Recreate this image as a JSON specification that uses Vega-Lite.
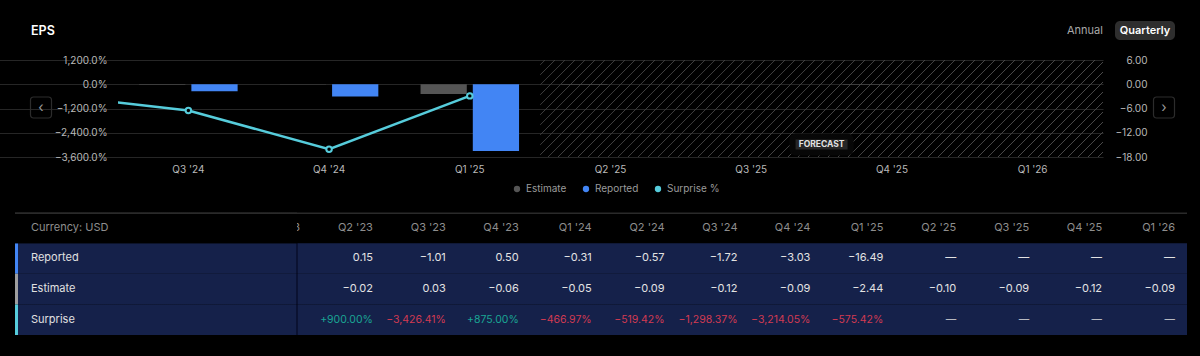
{
"$schema": "https://vega.github.io/schema/vega-lite/v6.json",
"width": 985, "height": 97,
"autosize": {"type": "none"},
"padding": {"left": 118, "top": 60, "right": 97, "bottom": 199},
"background": "#000000",
"config": {"font": "Inter", "view": {"stroke": null}, "axis": {"labelFont": "Inter"}, "legend": {"labelFont": "Inter"}},
"title": {"text": "EPS", "anchor": "start", "frame": "group", "dx": -87, "offset": -16, "fontSize": 12.5, "fontWeight": 600, "color": "#ffffff", "font": "Inter"},
"datasets": {"eps": [
 {"q": "Q1 '23", "Reported": null, "Estimate": null, "Surprise": null},
 {"q": "Q2 '23", "Reported": 0.15, "Estimate": -0.02, "Surprise": 9.0},
 {"q": "Q3 '23", "Reported": -1.01, "Estimate": 0.03, "Surprise": -34.2641},
 {"q": "Q4 '23", "Reported": 0.50, "Estimate": -0.06, "Surprise": 8.75},
 {"q": "Q1 '24", "Reported": -0.31, "Estimate": -0.05, "Surprise": -4.6697},
 {"q": "Q2 '24", "Reported": -0.57, "Estimate": -0.09, "Surprise": -5.1942},
 {"q": "Q3 '24", "Reported": -1.72, "Estimate": -0.12, "Surprise": -12.9837},
 {"q": "Q4 '24", "Reported": -3.03, "Estimate": -0.09, "Surprise": -32.1405},
 {"q": "Q1 '25", "Reported": -16.49, "Estimate": -2.44, "Surprise": -5.7542},
 {"q": "Q2 '25", "Reported": null, "Estimate": -0.10, "Surprise": null},
 {"q": "Q3 '25", "Reported": null, "Estimate": -0.09, "Surprise": null},
 {"q": "Q4 '25", "Reported": null, "Estimate": -0.12, "Surprise": null},
 {"q": "Q1 '26", "Reported": null, "Estimate": -0.09, "Surprise": null}
]},
"layer": [
 {
  "data": {"values": [{"label": "FORECAST"}]},
  "layer": [
   {"mark": {"type": "rect", "fill": {"gradient": "linear", "x1": 0, "y1": 0, "x2": 1.1385, "y2": 0.1962, "stops": [
     {"offset":0,"color":"transparent"},
     {"offset":0.0060,"color":"transparent"},{"offset":0.0076,"color":"#4a4a4a"},{"offset":0.0092,"color":"transparent"},
     {"offset":0.0211,"color":"transparent"},{"offset":0.0227,"color":"#4a4a4a"},{"offset":0.0243,"color":"transparent"},
     {"offset":0.0363,"color":"transparent"},{"offset":0.0379,"color":"#4a4a4a"},{"offset":0.0395,"color":"transparent"},
     {"offset":0.0514,"color":"transparent"},{"offset":0.0530,"color":"#4a4a4a"},{"offset":0.0546,"color":"transparent"},
     {"offset":0.0666,"color":"transparent"},{"offset":0.0682,"color":"#4a4a4a"},{"offset":0.0698,"color":"transparent"},
     {"offset":0.0817,"color":"transparent"},{"offset":0.0833,"color":"#4a4a4a"},{"offset":0.0849,"color":"transparent"},
     {"offset":0.0969,"color":"transparent"},{"offset":0.0985,"color":"#4a4a4a"},{"offset":0.1001,"color":"transparent"},
     {"offset":0.1120,"color":"transparent"},{"offset":0.1136,"color":"#4a4a4a"},{"offset":0.1152,"color":"transparent"},
     {"offset":0.1272,"color":"transparent"},{"offset":0.1288,"color":"#4a4a4a"},{"offset":0.1304,"color":"transparent"},
     {"offset":0.1423,"color":"transparent"},{"offset":0.1439,"color":"#4a4a4a"},{"offset":0.1455,"color":"transparent"},
     {"offset":0.1575,"color":"transparent"},{"offset":0.1591,"color":"#4a4a4a"},{"offset":0.1607,"color":"transparent"},
     {"offset":0.1726,"color":"transparent"},{"offset":0.1742,"color":"#4a4a4a"},{"offset":0.1758,"color":"transparent"},
     {"offset":0.1878,"color":"transparent"},{"offset":0.1894,"color":"#4a4a4a"},{"offset":0.1910,"color":"transparent"},
     {"offset":0.2029,"color":"transparent"},{"offset":0.2045,"color":"#4a4a4a"},{"offset":0.2061,"color":"transparent"},
     {"offset":0.2181,"color":"transparent"},{"offset":0.2197,"color":"#4a4a4a"},{"offset":0.2213,"color":"transparent"},
     {"offset":0.2332,"color":"transparent"},{"offset":0.2348,"color":"#4a4a4a"},{"offset":0.2364,"color":"transparent"},
     {"offset":0.2484,"color":"transparent"},{"offset":0.2500,"color":"#4a4a4a"},{"offset":0.2516,"color":"transparent"},
     {"offset":0.2636,"color":"transparent"},{"offset":0.2652,"color":"#4a4a4a"},{"offset":0.2668,"color":"transparent"},
     {"offset":0.2787,"color":"transparent"},{"offset":0.2803,"color":"#4a4a4a"},{"offset":0.2819,"color":"transparent"},
     {"offset":0.2939,"color":"transparent"},{"offset":0.2955,"color":"#4a4a4a"},{"offset":0.2971,"color":"transparent"},
     {"offset":0.3090,"color":"transparent"},{"offset":0.3106,"color":"#4a4a4a"},{"offset":0.3122,"color":"transparent"},
     {"offset":0.3242,"color":"transparent"},{"offset":0.3258,"color":"#4a4a4a"},{"offset":0.3274,"color":"transparent"},
     {"offset":0.3393,"color":"transparent"},{"offset":0.3409,"color":"#4a4a4a"},{"offset":0.3425,"color":"transparent"},
     {"offset":0.3545,"color":"transparent"},{"offset":0.3561,"color":"#4a4a4a"},{"offset":0.3577,"color":"transparent"},
     {"offset":0.3696,"color":"transparent"},{"offset":0.3712,"color":"#4a4a4a"},{"offset":0.3728,"color":"transparent"},
     {"offset":0.3848,"color":"transparent"},{"offset":0.3864,"color":"#4a4a4a"},{"offset":0.3880,"color":"transparent"},
     {"offset":0.3999,"color":"transparent"},{"offset":0.4015,"color":"#4a4a4a"},{"offset":0.4031,"color":"transparent"},
     {"offset":0.4151,"color":"transparent"},{"offset":0.4167,"color":"#4a4a4a"},{"offset":0.4183,"color":"transparent"},
     {"offset":0.4302,"color":"transparent"},{"offset":0.4318,"color":"#4a4a4a"},{"offset":0.4334,"color":"transparent"},
     {"offset":0.4454,"color":"transparent"},{"offset":0.4470,"color":"#4a4a4a"},{"offset":0.4486,"color":"transparent"},
     {"offset":0.4605,"color":"transparent"},{"offset":0.4621,"color":"#4a4a4a"},{"offset":0.4637,"color":"transparent"},
     {"offset":0.4757,"color":"transparent"},{"offset":0.4773,"color":"#4a4a4a"},{"offset":0.4789,"color":"transparent"},
     {"offset":0.4908,"color":"transparent"},{"offset":0.4924,"color":"#4a4a4a"},{"offset":0.4940,"color":"transparent"},
     {"offset":0.5060,"color":"transparent"},{"offset":0.5076,"color":"#4a4a4a"},{"offset":0.5092,"color":"transparent"},
     {"offset":0.5211,"color":"transparent"},{"offset":0.5227,"color":"#4a4a4a"},{"offset":0.5243,"color":"transparent"},
     {"offset":0.5363,"color":"transparent"},{"offset":0.5379,"color":"#4a4a4a"},{"offset":0.5395,"color":"transparent"},
     {"offset":0.5514,"color":"transparent"},{"offset":0.5530,"color":"#4a4a4a"},{"offset":0.5546,"color":"transparent"},
     {"offset":0.5666,"color":"transparent"},{"offset":0.5682,"color":"#4a4a4a"},{"offset":0.5698,"color":"transparent"},
     {"offset":0.5817,"color":"transparent"},{"offset":0.5833,"color":"#4a4a4a"},{"offset":0.5849,"color":"transparent"},
     {"offset":0.5969,"color":"transparent"},{"offset":0.5985,"color":"#4a4a4a"},{"offset":0.6001,"color":"transparent"},
     {"offset":0.6120,"color":"transparent"},{"offset":0.6136,"color":"#4a4a4a"},{"offset":0.6152,"color":"transparent"},
     {"offset":0.6272,"color":"transparent"},{"offset":0.6288,"color":"#4a4a4a"},{"offset":0.6304,"color":"transparent"},
     {"offset":0.6423,"color":"transparent"},{"offset":0.6439,"color":"#4a4a4a"},{"offset":0.6455,"color":"transparent"},
     {"offset":0.6575,"color":"transparent"},{"offset":0.6591,"color":"#4a4a4a"},{"offset":0.6607,"color":"transparent"},
     {"offset":0.6726,"color":"transparent"},{"offset":0.6742,"color":"#4a4a4a"},{"offset":0.6758,"color":"transparent"},
     {"offset":0.6878,"color":"transparent"},{"offset":0.6894,"color":"#4a4a4a"},{"offset":0.6910,"color":"transparent"},
     {"offset":0.7029,"color":"transparent"},{"offset":0.7045,"color":"#4a4a4a"},{"offset":0.7061,"color":"transparent"},
     {"offset":0.7181,"color":"transparent"},{"offset":0.7197,"color":"#4a4a4a"},{"offset":0.7213,"color":"transparent"},
     {"offset":0.7332,"color":"transparent"},{"offset":0.7348,"color":"#4a4a4a"},{"offset":0.7364,"color":"transparent"},
     {"offset":0.7484,"color":"transparent"},{"offset":0.7500,"color":"#4a4a4a"},{"offset":0.7516,"color":"transparent"},
     {"offset":0.7636,"color":"transparent"},{"offset":0.7652,"color":"#4a4a4a"},{"offset":0.7668,"color":"transparent"},
     {"offset":0.7787,"color":"transparent"},{"offset":0.7803,"color":"#4a4a4a"},{"offset":0.7819,"color":"transparent"},
     {"offset":0.7939,"color":"transparent"},{"offset":0.7955,"color":"#4a4a4a"},{"offset":0.7971,"color":"transparent"},
     {"offset":0.8090,"color":"transparent"},{"offset":0.8106,"color":"#4a4a4a"},{"offset":0.8122,"color":"transparent"},
     {"offset":0.8242,"color":"transparent"},{"offset":0.8258,"color":"#4a4a4a"},{"offset":0.8274,"color":"transparent"},
     {"offset":0.8393,"color":"transparent"},{"offset":0.8409,"color":"#4a4a4a"},{"offset":0.8425,"color":"transparent"},
     {"offset":0.8545,"color":"transparent"},{"offset":0.8561,"color":"#4a4a4a"},{"offset":0.8577,"color":"transparent"},
     {"offset":0.8696,"color":"transparent"},{"offset":0.8712,"color":"#4a4a4a"},{"offset":0.8728,"color":"transparent"},
     {"offset":0.8848,"color":"transparent"},{"offset":0.8864,"color":"#4a4a4a"},{"offset":0.8880,"color":"transparent"},
     {"offset":0.8999,"color":"transparent"},{"offset":0.9015,"color":"#4a4a4a"},{"offset":0.9031,"color":"transparent"},
     {"offset":0.9151,"color":"transparent"},{"offset":0.9167,"color":"#4a4a4a"},{"offset":0.9183,"color":"transparent"},
     {"offset":0.9302,"color":"transparent"},{"offset":0.9318,"color":"#4a4a4a"},{"offset":0.9334,"color":"transparent"},
     {"offset":0.9454,"color":"transparent"},{"offset":0.9470,"color":"#4a4a4a"},{"offset":0.9486,"color":"transparent"},
     {"offset":0.9605,"color":"transparent"},{"offset":0.9621,"color":"#4a4a4a"},{"offset":0.9637,"color":"transparent"},
     {"offset":0.9757,"color":"transparent"},{"offset":0.9773,"color":"#4a4a4a"},{"offset":0.9789,"color":"transparent"},
     {"offset":0.9908,"color":"transparent"},{"offset":0.9924,"color":"#4a4a4a"},{"offset":0.9940,"color":"transparent"},
     {"offset":1,"color":"transparent"}
    ]}},
    "encoding": {"x": {"datum": 3, "type": "quantitative", "scale": {"domain": [0, 7], "range": [0, 985], "nice": false, "zero": false}, "axis": null}, "x2": {"datum": 7}}},
   {"mark": {"type": "point", "shape": "M-0.9,-0.276L0.9,-0.276A0.1,0.1 0 0 1 1,-0.176L1,0.176A0.1,0.1 0 0 1 0.9,0.276L-0.9,0.276A0.1,0.1 0 0 1 -1,0.176L-1,-0.176A0.1,0.1 0 0 1 -0.9,-0.276Z", "size": 3364, "filled": true, "color": "#262626", "fill": "#262626", "stroke": "#070707", "strokeWidth": 6, "opacity": 1},
    "encoding": {"x": {"datum": 5, "type": "quantitative"}, "y": {"datum": -14.9, "type": "quantitative", "scale": {"domain": [-18, 6], "nice": false}, "axis": null}}},
   {"mark": {"type": "text", "fontSize": 8.5, "fontWeight": 700, "color": "#e2e2e2"},
    "encoding": {"x": {"datum": 5, "type": "quantitative"}, "y": {"datum": -14.9, "type": "quantitative"}, "text": {"field": "label"}}}
  ]
 },
 {
  "data": {"name": "eps"},
  "transform": [{"filter": {"field": "q", "oneOf": ["Q2 '24", "Q3 '24", "Q4 '24", "Q1 '25", "Q2 '25", "Q3 '25", "Q4 '25", "Q1 '26"]}}],
  "layer": [
   {
    "transform": [{"filter": {"field": "q", "oneOf": ["Q3 '24", "Q4 '24", "Q1 '25", "Q2 '25", "Q3 '25", "Q4 '25", "Q1 '26"]}}, {"fold": ["Estimate", "Reported"], "as": ["series", "value"]}],
    "mark": {"type": "bar"},
    "encoding": {
     "x": {"field": "q", "type": "nominal", "sort": null,
      "scale": {"domain": ["Q2 '24", "Q3 '24", "Q4 '24", "Q1 '25", "Q2 '25", "Q3 '25", "Q4 '25", "Q1 '26"], "range": [-140.7, 985], "paddingInner": 0.3, "paddingOuter": 0.15},
      "axis": {"orient": "bottom", "values": ["Q3 '24", "Q4 '24", "Q1 '25", "Q2 '25", "Q3 '25", "Q4 '25", "Q1 '26"], "title": null, "ticks": false, "domain": false, "grid": false, "labelPadding": 7, "labelColor": "#b9b9b9", "labelFontSize": 10, "labelAngle": 0}},
     "xOffset": {"field": "series", "type": "nominal", "scale": {"domain": ["Estimate", "Reported"], "paddingInner": 0.115, "paddingOuter": 0}},
     "y": {"field": "value", "type": "quantitative", "scale": {"domain": [-18, 6], "nice": false},
      "axis": {"orient": "right", "values": [-18, -12, -6, 0, 6], "tickCount": 5, "format": ".2f", "title": null, "ticks": false, "domain": false, "grid": false, "labelAlign": "right", "labelPadding": 44, "labelOverlap": false, "labelColor": "#b9b9b9", "labelFontSize": 10}},
     "color": {"field": "series", "type": "nominal",
      "scale": {"domain": ["Estimate", "Reported", "Surprise %"], "range": ["#555555", "#4285f4", "#56ccdb"]},
      "legend": {"orient": "none", "legendX": 394, "legendY": 124, "direction": "horizontal", "title": null, "symbolType": "circle", "symbolSize": 40, "labelColor": "#9b9b9b", "labelFontSize": 10, "columnPadding": 14, "labelOffset": 4, "symbolStrokeWidth": 0,
       "encode": {"symbols": {"update": {"fill": {"signal": "datum.value === 'Estimate' ? '#c4c4c4' : scale('color', datum.value)"}, "stroke": {"value": "transparent"}}}}}}
    }
   },
   {
    "layer": [
     {"transform": [{"filter": {"field": "q", "oneOf": ["Q2 '24", "Q3 '24", "Q4 '24", "Q1 '25"]}}],
      "mark": {"type": "line", "clip": true, "strokeWidth": 2.5},
      "encoding": {
       "x": {"field": "q", "type": "nominal", "sort": null},
       "y": {"field": "Surprise", "type": "quantitative", "scale": {"domain": [-36, 12], "nice": false},
        "axis": {"orient": "left", "values": [-36, -24, -12, 0, 12], "tickCount": 5, "format": ",.1%", "title": null, "ticks": false, "domain": false, "grid": true, "gridColor": "#262626", "gridWidth": 1, "labelPadding": 11, "labelOverlap": false, "labelBound": false, "labelColor": "#b9b9b9", "labelFontSize": 10}},
       "color": {"datum": "Surprise %", "type": "nominal"}}},
     {"transform": [{"filter": {"field": "q", "oneOf": ["Q3 '24", "Q4 '24", "Q1 '25"]}}],
      "mark": {"type": "point", "filled": true, "fill": "#000000", "stroke": "#56ccdb", "strokeWidth": 2, "size": 30, "opacity": 1},
      "encoding": {
       "x": {"field": "q", "type": "nominal", "sort": null},
       "y": {"field": "Surprise", "type": "quantitative"}}}
    ]
   }
  ],
  "resolve": {"scale": {"y": "independent"}}
 },
 {
  "layer": [
   {
    "data": {"values": [{}]},
    "layer": [
     {"mark": {"type": "rect", "fill": {"gradient": "linear", "x1": 0, "y1": 0, "x2": 0, "y2": 1, "stops": [{"offset": 0, "color": "#2a2a2a"}, {"offset": 0.035, "color": "#2a2a2a"}, {"offset": 0.035, "color": "#000000"}, {"offset": 1, "color": "#000000"}]}},
      "encoding": {"x": {"datum": 0, "type": "quantitative", "scale": {"domain": [0, 1], "range": [-103, 1069], "nice": false, "zero": false}, "axis": null}, "x2": {"datum": 1},
       "y": {"datum": "Currency: USD", "type": "nominal", "scale": {"domain": ["Currency: USD", "Reported", "Estimate", "Surprise"], "range": [152.5, 275], "paddingInner": 0, "paddingOuter": 0}, "axis": null}}},
     {"mark": {"type": "rect", "fill": {"gradient": "linear", "x1": 0, "y1": 0, "x2": 1, "y2": 0, "stops": [{"offset": 0, "color": "#4285f4"}, {"offset": 0.0026, "color": "#4285f4"}, {"offset": 0.0026, "color": "#15214a"}, {"offset": 0.2398, "color": "#15214a"}, {"offset": 0.2398, "color": "#0b1232"}, {"offset": 0.2415, "color": "#0b1232"}, {"offset": 0.2415, "color": "#15214a"}, {"offset": 1, "color": "#15214a"}]}},
      "encoding": {"x": {"datum": 0, "type": "quantitative"}, "x2": {"datum": 1}, "y": {"datum": "Reported", "type": "nominal"}}},
     {"mark": {"type": "rect", "fill": {"gradient": "linear", "x1": 0, "y1": 0, "x2": 1, "y2": 0, "stops": [{"offset": 0, "color": "#9e9e9e"}, {"offset": 0.0026, "color": "#9e9e9e"}, {"offset": 0.0026, "color": "#15214a"}, {"offset": 0.2398, "color": "#15214a"}, {"offset": 0.2398, "color": "#0b1232"}, {"offset": 0.2415, "color": "#0b1232"}, {"offset": 0.2415, "color": "#15214a"}, {"offset": 1, "color": "#15214a"}]}},
      "encoding": {"x": {"datum": 0, "type": "quantitative"}, "x2": {"datum": 1}, "y": {"datum": "Estimate", "type": "nominal"}}},
     {"mark": {"type": "rect", "fill": {"gradient": "linear", "x1": 0, "y1": 0, "x2": 1, "y2": 0, "stops": [{"offset": 0, "color": "#56ccdb"}, {"offset": 0.0026, "color": "#56ccdb"}, {"offset": 0.0026, "color": "#15214a"}, {"offset": 0.2398, "color": "#15214a"}, {"offset": 0.2398, "color": "#0b1232"}, {"offset": 0.2415, "color": "#0b1232"}, {"offset": 0.2415, "color": "#15214a"}, {"offset": 1, "color": "#15214a"}]}},
      "encoding": {"x": {"datum": 0, "type": "quantitative"}, "x2": {"datum": 1}, "y": {"datum": "Surprise", "type": "nominal"}}}
    ]
   },
   {
    "data": {"name": "eps"},
    "layer": [
     {"mark": {"type": "text", "align": "right", "baseline": "middle", "fontSize": 11, "color": "#8e8e8e"},
      "encoding": {"x": {"field": "q", "type": "nominal", "sort": null, "scale": {"type": "point", "domain": ["Q1 '23", "Q2 '23", "Q3 '23", "Q4 '23", "Q1 '24", "Q2 '24", "Q3 '24", "Q4 '24", "Q1 '25", "Q2 '25", "Q3 '25", "Q4 '25", "Q1 '26"], "range": [182, 1057], "padding": 0}, "axis": null},
       "y": {"datum": "Currency: USD", "type": "nominal"}, "text": {"field": "q"}}},
     {"transform": [{"filter": "datum.Estimate !== null"}],
      "mark": {"type": "text", "align": "right", "baseline": "middle", "fontSize": 11, "color": "#e3e3e3"},
      "encoding": {"x": {"field": "q", "type": "nominal", "sort": null}, "y": {"datum": "Reported", "type": "nominal"},
       "text": {"condition": {"test": "datum.Reported === null", "value": "—"}, "field": "Reported", "type": "quantitative", "format": ".2f"}}},
     {"transform": [{"filter": "datum.Estimate !== null"}],
      "mark": {"type": "text", "align": "right", "baseline": "middle", "fontSize": 11, "color": "#e3e3e3"},
      "encoding": {"x": {"field": "q", "type": "nominal", "sort": null}, "y": {"datum": "Estimate", "type": "nominal"},
       "text": {"condition": {"test": "datum.Estimate === null", "value": "—"}, "field": "Estimate", "type": "quantitative", "format": ".2f"}}},
     {"transform": [{"filter": "datum.Estimate !== null"}],
      "mark": {"type": "text", "align": "right", "baseline": "middle", "fontSize": 10.5},
      "encoding": {"x": {"field": "q", "type": "nominal", "sort": null}, "y": {"datum": "Surprise", "type": "nominal"},
       "text": {"condition": {"test": "datum.Surprise === null", "value": "—"}, "field": "Surprise", "type": "quantitative", "format": "+,.2%"},
       "color": {"condition": [{"test": "datum.Surprise !== null && datum.Surprise > 0", "value": "#1aa594"}, {"test": "datum.Surprise !== null && datum.Surprise < 0", "value": "#d23a52"}], "value": "#d6d6d6"}}}
    ]
   },
   {
    "data": {"values": [{}]},
    "layer": [
     {"mark": {"type": "rect", "fill": {"gradient": "linear", "x1": 0, "y1": 0, "x2": 0, "y2": 1, "stops": [{"offset": 0, "color": "#2a2a2a"}, {"offset": 0.035, "color": "#2a2a2a"}, {"offset": 0.035, "color": "#000000"}, {"offset": 1, "color": "#000000"}]}},
      "encoding": {"x": {"datum": 0, "type": "quantitative", "scale": {"domain": [0, 1], "range": [-103, 1069], "nice": false, "zero": false}, "axis": null}, "x2": {"datum": 0.2406},
       "y": {"datum": "Currency: USD", "type": "nominal"}}},
     {"data": {"values": [{"row": "Currency: USD"}, {"row": "Reported"}, {"row": "Estimate"}, {"row": "Surprise"}]},
      "mark": {"type": "text", "align": "left", "baseline": "middle", "fontSize": 11},
      "encoding": {"x": {"datum": 0.01365, "type": "quantitative"}, "y": {"field": "row", "type": "nominal"}, "text": {"field": "row"},
       "color": {"condition": {"test": "datum.row === 'Currency: USD'", "value": "#8e8e8e"}, "value": "#e0e0e0"}}}
    ]
   }
  ],
  "resolve": {"scale": {"x": "independent"}}
 },
 {
  "data": {"values": [{"opt": "Annual"}, {"opt": "Quarterly"}]},
  "layer": [
   {"transform": [{"filter": "datum.opt === 'Quarterly'"}],
    "mark": {"type": "rect", "cornerRadius": 5, "fill": "#2e2e2e", "color": "#2e2e2e"},
    "encoding": {"x": {"field": "opt", "type": "nominal", "scale": {"domain": ["Annual", "Quarterly"], "range": [937, 1057], "paddingInner": 0, "paddingOuter": 0}, "axis": null},
     "y": {"datum": "t", "type": "nominal", "scale": {"domain": ["t"], "range": [-39, -20], "paddingInner": 0, "paddingOuter": 0}, "axis": null}}},
   {"transform": [{"filter": "datum.opt === 'Annual'"}],
    "mark": {"type": "text", "fontSize": 11, "color": "#a8a8a8", "baseline": "middle"},
    "encoding": {"x": {"field": "opt", "type": "nominal"}, "y": {"datum": "t", "type": "nominal"}, "text": {"field": "opt"}}},
   {"transform": [{"filter": "datum.opt === 'Quarterly'"}],
    "mark": {"type": "text", "fontSize": 11, "fontWeight": 600, "color": "#ffffff", "baseline": "middle"},
    "encoding": {"x": {"field": "opt", "type": "nominal"}, "y": {"datum": "t", "type": "nominal"}, "text": {"field": "opt"}}}
  ]
 },
 {
  "data": {"values": [{"nav": "prev", "g": "‹"}, {"nav": "next", "g": "›"}]},
  "layer": [
   {"mark": {"type": "point", "shape": "M-0.7,-1L0.7,-1A0.3,0.3 0 0 1 1,-0.7L1,0.7A0.3,0.3 0 0 1 0.7,1L-0.7,1A0.3,0.3 0 0 1 -1,0.7L-1,-0.7A0.3,0.3 0 0 1 -0.7,-1Z", "size": 441, "filled": false, "stroke": "#2c2c2c", "strokeWidth": 1.2, "opacity": 1},
    "encoding": {"x": {"field": "nav", "type": "nominal", "scale": {"type": "point", "domain": ["prev", "next"], "range": [-77, 1046], "padding": 0}, "axis": null},
     "y": {"datum": "n", "type": "nominal", "scale": {"type": "point", "domain": ["n"], "range": [37, 58], "padding": 0.5}, "axis": null}}},
   {"mark": {"type": "text", "fontSize": 14, "color": "#9a9a9a", "baseline": "middle"},
    "encoding": {"x": {"field": "nav", "type": "nominal"}, "y": {"datum": "n", "type": "nominal"}, "text": {"field": "g"}}}
  ]
 }
],
"resolve": {"scale": {"x": "independent", "y": "independent"}}
}
